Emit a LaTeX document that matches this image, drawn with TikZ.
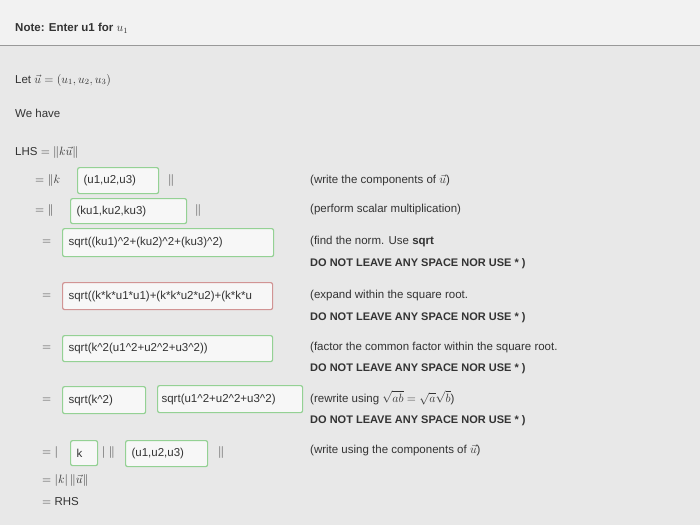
\documentclass[tikz,border=0pt]{standalone}
\usepackage{fontspec}
\setmainfont{Liberation Sans}
\begin{document}
\begin{tikzpicture}[x=1pt,y=-1pt,
  txt/.style={anchor=west,inner sep=0pt,font=\fontsize{11.5}{13}\selectfont,text=black!80},
  bt/.style={txt,font=\fontsize{11}{13}\selectfont\bfseries},
  ansbox/.style={draw=green!40!gray!60,line width=1.2pt,fill=black!3,rounded corners=2pt,anchor=north west,inner ysep=0pt,inner xsep=6pt,font=\fontsize{11.5}{13}\selectfont,text=black!80,align=left},
  redbox/.style={ansbox,draw=red!40!gray!60}]
\useasboundingbox (0,0) rectangle (700,525);
\fill[black!9] (0,0) rectangle (700,525);
\fill[black!5] (0,0) rectangle (700,45);
\draw[black!40,line width=0.8pt] (0,45) -- (700,45);
\node[txt] (note) at (15,28) {\textbf{Note: Enter u1 for} $u_1$};
\node[txt] (let) at (15,80) {Let $\vec u=(u_1,u_2,u_3)$};
\node[txt] (we) at (15,113) {We have};
\node[txt] (lhs) at (15,152) {LHS $=\|k\vec u\|$};
% row1
\node[txt] (r1a) at (35,180) {$=\|k$};
\node[ansbox,text width=69pt,minimum height=26pt] (b1) at (77,167) {(u1,u2,u3)};
\node[txt] (r1b) at (168,180) {$\|$};
\node[txt] (c1) at (310,180) {(write the components of $\vec u$)};
% row2
\node[txt] (r2a) at (35,210) {$=\|$};
\node[ansbox,text width=104pt,minimum height=25pt] (b2) at (70,198) {(ku1,ku2,ku3)};
\node[txt] (r2b) at (195,210) {$\|$};
\node[txt] (c2) at (310,210) {(perform scalar multiplication)};
% row3
\node[txt] (r3a) at (42,242) {$=$};
\node[ansbox,text width=199pt,minimum height=28pt] (b3) at (62,228) {sqrt((ku1)\textasciicircum2+(ku2)\textasciicircum2+(ku3)\textasciicircum2)};
\node[txt] (c3) at (310,242) {(find the norm. Use \textbf{sqrt}};
\node[bt] (d3) at (310,264) {DO NOT LEAVE ANY SPACE NOR USE * )};
% row4
\node[txt] (r4a) at (42,296) {$=$};
\node[redbox,text width=198pt,minimum height=27pt] (b4) at (62,282) {sqrt((k*k*u1*u1)+(k*k*u2*u2)+(k*k*u\rlap{\phantom{x}}};
\node[txt] (c4) at (310,296) {(expand within the square root.};
\node[bt] (d4) at (310,318) {DO NOT LEAVE ANY SPACE NOR USE * )};
% row5
\node[txt] (r5a) at (42,348) {$=$};
\node[ansbox,text width=198pt,minimum height=26pt] (b5) at (62,335) {sqrt(k\textasciicircum2(u1\textasciicircum2+u2\textasciicircum2+u3\textasciicircum2))};
\node[txt] (c5) at (310,348) {(factor the common factor within the square root.};
\node[bt] (d5) at (310,369) {DO NOT LEAVE ANY SPACE NOR USE * )};
% row6
\node[txt] (r6a) at (42,400) {$=$};
\node[ansbox,text width=71pt,minimum height=27pt] (b6a) at (62,386) {sqrt(k\textasciicircum2)};
\node[ansbox,inner xsep=4pt,text width=137pt,minimum height=27pt] (b6b) at (157,385) {sqrt(u1\textasciicircum2+u2\textasciicircum2+u3\textasciicircum2)};
\node[txt] (c6) at (310,398) {(rewrite using $\sqrt{ab}=\sqrt{a}\sqrt{b}$)};
\node[bt] (d6) at (310,421) {DO NOT LEAVE ANY SPACE NOR USE * )};
% row7
\node[txt] (r7a) at (42,452) {$=|$};
\node[ansbox,text width=15pt,minimum height=25pt] (b7a) at (70,440) {k};
\node[txt] (r7b) at (102,452) {$|\;\|$};
\node[ansbox,text width=70pt,minimum height=26pt] (b7b) at (125,440) {(u1,u2,u3)};
\node[txt] (r7c) at (218,452) {$\|$};
\node[txt] (c7) at (310,450) {(write using the components of $\vec u$)};
\node[txt] (r8) at (42,480) {$=|k|\,\|\vec u\|$};
\node[txt] (r9) at (42,502) {$=$ RHS};
\end{tikzpicture}
\end{document}
